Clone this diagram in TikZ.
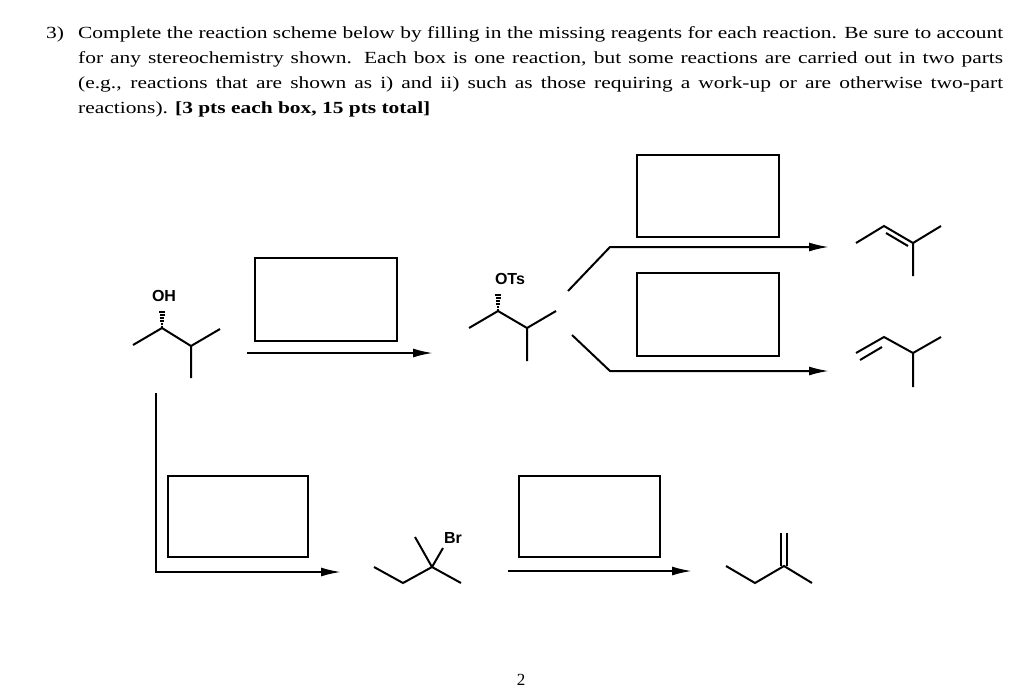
\documentclass[tikz,border=0pt]{standalone}
\usepackage{fontspec}
\setmainfont{Liberation Serif}
\newfontfamily\hdfont[FakeStretch=1.26]{Liberation Serif}
\newfontfamily\chemf{Liberation Sans}
\usetikzlibrary{arrows.meta}
\begin{document}
\begin{tikzpicture}[x=1pt,y=-1pt,
 bond/.style={line width=2pt},
 box/.style={draw,line width=2pt},
 rxn/.style={line width=2pt,-{Latex[length=20pt,width=9pt]}},
 lbl/.style={font=\chemf\bfseries\fontsize{16}{16}\selectfont,inner sep=0pt},
 hd/.style={anchor=north west,inner sep=0pt,font=\hdfont\fontsize{17}{25}\selectfont}]
\useasboundingbox (0,0) rectangle (1024,689);
\node[hd] (n3) at (46,26) {3)};
\node[hd,text width=925pt,align=justify] (l1) at (78,26) {Complete the reaction scheme below by filling in the missing reagents for each reaction. Be sure to account\linebreak
for any stereochemistry shown. Each box is one reaction, but some reactions are carried out in two parts\linebreak
(e.g., reactions that are shown as i) and ii) such as those requiring a work-up or are otherwise two-part\linebreak
reactions). \textbf{[3 pts each box, 15 pts total]}};
% OH molecule
\draw[bond] (133,345)--(162,328)--(191,346)--(220,329) (191,346)--(191,378);
\foreach \i in {0,...,5}{\draw[line width=1.5pt] ({162-0.7-\i*0.45},{327-\i*3}) -- ({162+0.7+\i*0.45},{327-\i*3});}
\node[lbl] (oh) at (164,296) {OH};
% arrow 1
\draw[box] (255,258) rectangle (397,341);
\coordinate (a1s) at (247,353); \coordinate (a1e) at (433,353);
\draw[rxn] (a1s)--(a1e);
% OTs molecule
\draw[bond] (469,328)--(498,311)--(527,328)--(556,311) (527,328)--(527,361);
\foreach \i in {0,...,5}{\draw[line width=1.5pt] ({498-0.7-\i*0.45},{310-\i*3}) -- ({498+0.7+\i*0.45},{310-\i*3});}
\node[lbl] (ots) at (510,279) {OTs};
% branches
\coordinate (b1) at (568,291); \coordinate (b1m) at (610,247); \coordinate (b1e) at (829,247);
\coordinate (b2) at (572,335); \coordinate (b2m) at (610,371); \coordinate (b2e) at (829,371);
\draw[rxn] (b1)--(b1m)--(b1e);
\draw[rxn] (b2)--(b2m)--(b2e);
\draw[box] (637,155) rectangle (779,237);
\draw[box] (637,273) rectangle (779,356);
% top product
\draw[bond] (856,243)--(884,226)--(913,243)--(941,226) (913,243)--(913,276);
\draw[bond] (886,233)--(908,246);
% bottom product
\draw[bond] (856,353)--(884,337)--(913,353)--(941,337) (913,353)--(913,387);
\draw[bond] (860,360)--(882,347);
% lower left
\coordinate (c1) at (156,393); \coordinate (c2) at (156,572); \coordinate (c3) at (341,572);
\draw[rxn] (c1)--(c2)--(c3);
\draw[box] (168,476) rectangle (308,557);
% Br molecule
\draw[bond] (374,567)--(403,583)--(432,567)--(461,583) (432,567)--(415,537) (432,567)--(443,548);
\node[lbl] (br) at (453,538) {Br};
% arrow
\draw[box] (519,476) rectangle (660,557);
\coordinate (d1) at (508,571); \coordinate (d2) at (692,571);
\draw[rxn] (d1)--(d2);
% product
\draw[bond] (726,566)--(755,583)--(784,566)--(812,583);
\draw[bond] (781,566)--(781,533) (787,566)--(787,533);
\node[font=\fontsize{17}{20}\selectfont,inner sep=0pt] (pg) at (521,680) {2};
\end{tikzpicture}
\end{document}
